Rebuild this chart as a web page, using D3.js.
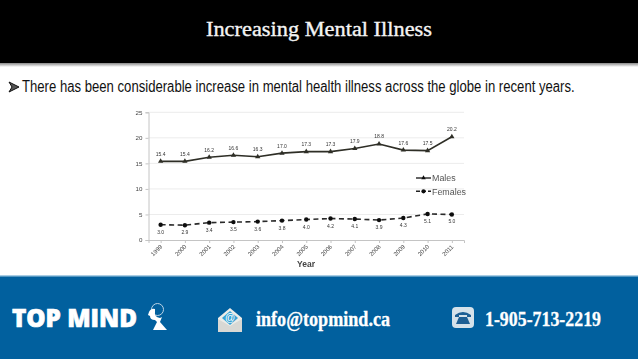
<!DOCTYPE html>
<html>
<head>
<meta charset="utf-8">
<script src="https://cdn.jsdelivr.net/npm/d3@7"></script>
<style>
  html, body { margin: 0; padding: 0; background: #fff; overflow: hidden; }
  svg { display: block; }
</style>
</head>
<body>
<div id="chart"></div>
<script>
const years = ["1999", "2000", "2001", "2002", "2003", "2004", "2005", "2006", "2007", "2008", "2009", "2010", "2011"];
const males = [15.4, 15.4, 16.2, 16.6, 16.3, 17.0, 17.3, 17.3, 17.9, 18.8, 17.6, 17.5, 20.2];
const females = [3.0, 2.9, 3.4, 3.5, 3.6, 3.8, 4.0, 4.2, 4.1, 3.9, 4.3, 5.1, 5.0];
const yTicks = [0, 5, 10, 15, 20, 25];
const legendLabels = ["Males", "Females"];

const W = 638, H = 359;
const svg = d3.select("#chart").append("svg").attr("width", W).attr("height", H);
const defs = svg.append("defs");

// the chart in the slide is a blurry pasted image
defs.append("filter").attr("id", "soft").append("feGaussianBlur").attr("stdDeviation", 0.45);
const shadow = defs.append("linearGradient").attr("id", "shadow").attr("x2", 0).attr("y2", 1);
shadow.append("stop").attr("offset", 0).attr("stop-color", "#888");
shadow.append("stop").attr("offset", 1).attr("stop-color", "#fff");

// header
svg.append("rect").attr("width", W).attr("height", 63).attr("fill", "#000");
svg.append("rect").attr("y", 63).attr("width", W).attr("height", 4).attr("fill", "url(#shadow)");
svg.append("text").attr("x", 206).attr("y", 36)
  .attr("font-family", "Liberation Serif")
  .attr("font-size", 20.5).attr("fill", "#f4f4f4")
  .attr("stroke", "#f4f4f4").attr("stroke-width", 0.35)
  .attr("textLength", 226).attr("lengthAdjust", "spacingAndGlyphs")
  .text("Increasing Mental Illness");

// bullet line
svg.append("path").attr("d", "M9 82 L19 87 L9 92 L12 87 Z").attr("fill", "#555")
  .attr("stroke", "#111").attr("stroke-width", 1);
// narrow look of the slide font: squeeze horizontally to the measured width
const bullet = svg.append("text")
  .attr("font-family", "Liberation Sans").attr("font-size", 16).attr("fill", "#111")
  .text("There has been considerable increase in mental health illness across the globe in recent years.");
bullet.attr("transform", `translate(22,92) scale(${553 / bullet.node().getComputedTextLength()},1)`);

// chart
const x = d3.scalePoint().domain(years).range([148.5, 464]).padding(0.5);
const y = d3.scaleLinear().domain([0, 25]).range([240, 112.3]);
const g = svg.append("g").attr("filter", "url(#soft)");

g.append("g").selectAll("line").data(yTicks.slice(1)).join("line")
  .attr("x1", 148.5).attr("x2", 464)
  .attr("y1", d => y(d)).attr("y2", d => y(d))
  .attr("stroke", "#ececec").attr("stroke-width", 1);

const yAxis = g.append("g").attr("transform", "translate(148.5,0)")
  .call(d3.axisLeft(y).tickValues(yTicks).tickSize(3).tickPadding(3));
yAxis.selectAll("text").attr("font-family", "Liberation Sans").attr("font-size", 6.2).attr("fill", "#444");
yAxis.selectAll("path,line").attr("stroke", "#c4c4c4");

const xAxis = g.append("g").attr("transform", "translate(0,240)")
  .call(d3.axisBottom(x).tickSize(3).tickPadding(3));
xAxis.selectAll("text")
  .attr("font-family", "Liberation Sans").attr("font-size", 6).attr("fill", "#444")
  .attr("text-anchor", "middle").attr("y", 0).attr("dy", "0.32em")
  .attr("transform", "translate(-4.5,10.5) rotate(-45)");
xAxis.selectAll("path,line").attr("stroke", "#c4c4c4");

g.append("text").attr("x", 306).attr("y", 266.5).attr("text-anchor", "middle")
  .attr("font-family", "Liberation Sans").attr("font-weight", "bold")
  .attr("font-size", 8.5).attr("fill", "#444").text("Year");

const line = d3.line().x((d, i) => x(years[i])).y(d => y(d));

g.append("path").datum(males).attr("d", line).attr("fill", "none")
  .attr("stroke", "#2e2e26").attr("stroke-width", 1.6);
g.append("g").selectAll("path").data(males).join("path")
  .attr("d", d3.symbol(d3.symbolTriangle, 12))
  .attr("transform", (d, i) => `translate(${x(years[i])},${y(d)})`)
  .attr("fill", "#2e2e26");
g.append("g").selectAll("text").data(males).join("text")
  .attr("x", (d, i) => x(years[i])).attr("y", d => y(d) - 5.5)
  .attr("text-anchor", "middle").attr("font-family", "Liberation Sans")
  .attr("font-size", 5).attr("fill", "#333").text(d => d.toFixed(1));

g.append("path").datum(females).attr("d", line).attr("fill", "none")
  .attr("stroke", "#2a2a2a").attr("stroke-width", 1.6).attr("stroke-dasharray", "5,3.5");
g.append("g").selectAll("circle").data(females).join("circle")
  .attr("cx", (d, i) => x(years[i])).attr("cy", d => y(d)).attr("r", 2.2)
  .attr("fill", "#111");
g.append("g").selectAll("text").data(females).join("text")
  .attr("x", (d, i) => x(years[i])).attr("y", d => y(d) + 9)
  .attr("text-anchor", "middle").attr("font-family", "Liberation Sans")
  .attr("font-size", 5).attr("fill", "#333").text(d => d.toFixed(1));

// legend
const legend = g.append("g").selectAll("g").data(legendLabels).join("g")
  .attr("transform", (d, i) => `translate(416,${178 + i * 13.3})`);
legend.append("line").attr("x1", 0).attr("x2", 15).attr("stroke", "#222").attr("stroke-width", 1.4)
  .attr("stroke-dasharray", (d, i) => i ? "4,2" : null);
legend.append("path")
  .attr("d", (d, i) => d3.symbol(i ? d3.symbolCircle : d3.symbolTriangle, i ? 14 : 9)())
  .attr("transform", "translate(7.5,0)").attr("fill", "#111");
legend.append("text").attr("x", 16).attr("y", 3.3)
  .attr("font-family", "Liberation Sans").attr("font-size", 8.9).attr("fill", "#555")
  .text(d => d);

// footer band
svg.append("rect").attr("y", 276).attr("width", W).attr("height", 83).attr("fill", "#01609e");
svg.append("rect").attr("y", 275).attr("width", W).attr("height", 1.5).attr("fill", "#a9cde4");

svg.append("text").attr("x", 12).attr("y", 327)
  .attr("font-family", "Open Sans").attr("font-weight", 800).attr("font-size", 25)
  .attr("fill", "#fff").attr("stroke", "#fff").attr("stroke-width", 0.7)
  .attr("textLength", 125).attr("lengthAdjust", "spacingAndGlyphs")
  .text("TOP MIND");

// head logo
const logo = svg.append("g").attr("transform", "translate(148,303)");
logo.append("circle").attr("cx", 9.5).attr("cy", 6.5).attr("r", 6)
  .attr("fill", "none").attr("stroke", "#bcd4e6").attr("stroke-width", 1);
logo.append("path").attr("d", "M1 9 Q3 5 7 6 L7 9 Q6 14 12 15 L14 14 L12 19 L19 27 L5 27 L9 19 L7 17 Q2 17 2 13 L0 12 Z").attr("fill", "#fff");

// mail icon
const mail = svg.append("g").attr("transform", "translate(218,308)");
mail.append("path").attr("d", "M0 10 L12 0 L24 10 L24 23 Q24 24 23 24 L1 24 Q0 24 0 23 Z").attr("fill", "#ecece8");
mail.append("path").attr("d", "M4 10 L12 3 L20 10 L12 17 Z").attr("fill", "#38a3d6");
mail.append("path").attr("d", "M0 11 L12 18 L24 11 L24 24 L0 24 Z").attr("fill", "#d8d8d4");
mail.append("text").attr("x", 12).attr("y", 13).attr("text-anchor", "middle")
  .attr("font-family", "Liberation Sans").attr("font-size", 10).attr("fill", "#fff").text("@");

svg.append("text").attr("x", 256).attr("y", 326)
  .attr("font-family", "Liberation Serif").attr("font-weight", "bold").attr("font-size", 20.5)
  .attr("fill", "#fff").attr("stroke", "#fff").attr("stroke-width", 0.3)
  .attr("textLength", 134).attr("lengthAdjust", "spacingAndGlyphs")
  .text("info@topmind.ca");

// phone icon
const phone = svg.append("g").attr("transform", "translate(452,307)");
phone.append("rect").attr("width", 22).attr("height", 21).attr("rx", 4).attr("fill", "#d5e2ea");
phone.append("path").attr("d", "M3 8 Q11 2 19 8 L19 10 L15 10 L15 8 L7 8 L7 10 L3 10 Z").attr("fill", "#1d5f94");
phone.append("path").attr("d", "M7 10 L15 10 L18 17 L4 17 Z").attr("fill", "#1d5f94");

svg.append("text").attr("x", 485).attr("y", 326)
  .attr("font-family", "Liberation Serif").attr("font-weight", "bold").attr("font-size", 21)
  .attr("fill", "#fff").attr("stroke", "#fff").attr("stroke-width", 0.3)
  .attr("textLength", 116).attr("lengthAdjust", "spacingAndGlyphs")
  .text("1-905-713-2219");
</script>
</body>
</html>
